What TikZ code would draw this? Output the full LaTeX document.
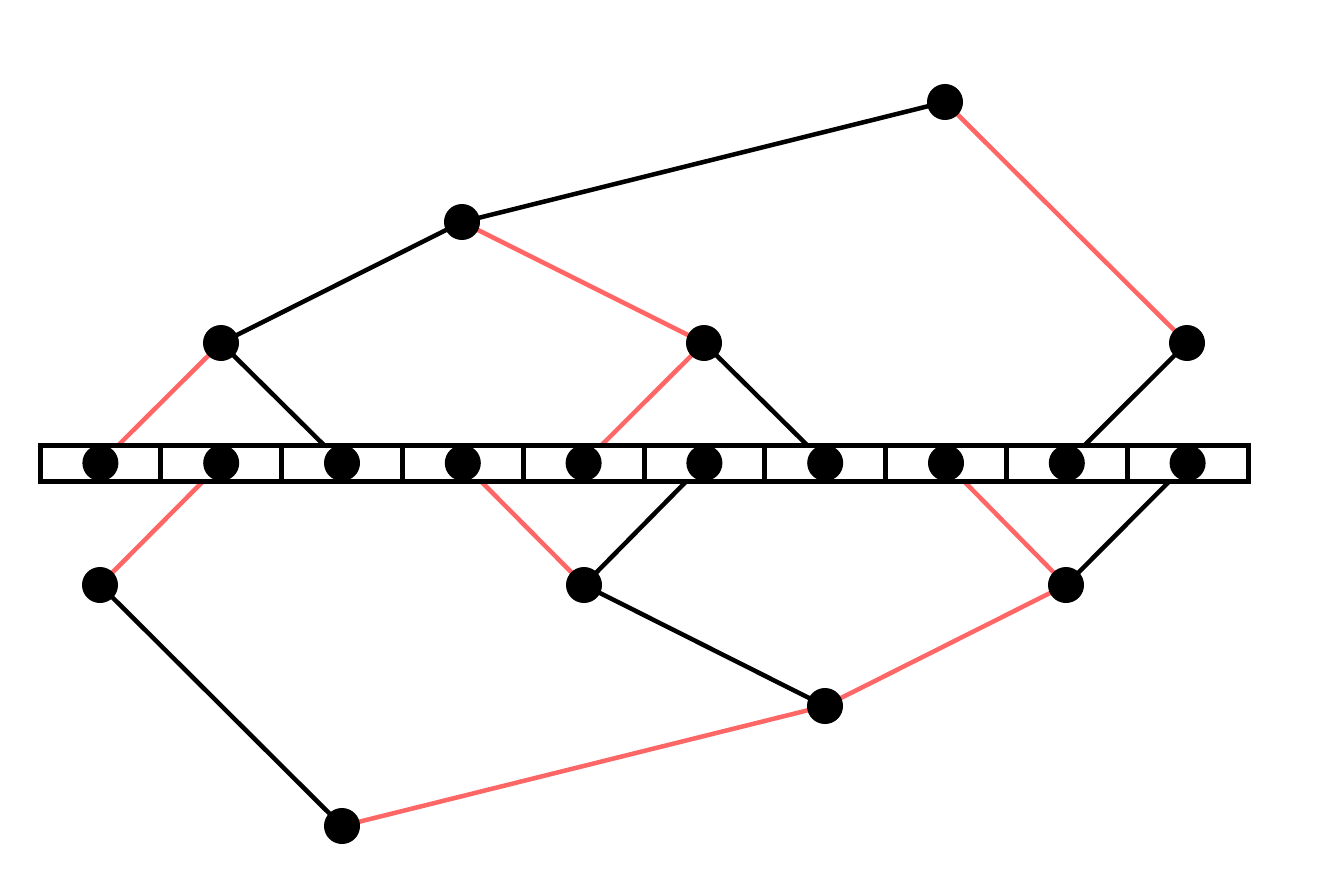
\documentclass[tikz,border=0pt]{standalone}
\begin{document}
\begin{tikzpicture}[x=1pt,y=-1pt,
  blk/.style={line width=4.5pt,black},
  rd/.style={line width=4.5pt,color={rgb,255:red,255;green,102;blue,102}},
  cellbox/.style={draw,line width=5pt,fill=white,rectangle,minimum width=120.8pt,minimum height=36pt,inner sep=0pt},
  dot/.style={circle,fill=black,minimum size=36pt,inner sep=0pt}]
\useasboundingbox (0,0) rectangle (1320,872);
% array coordinates
\foreach \i in {0,...,9} {
  \coordinate (a\i) at ({40+120.8*(\i+0.5)},463);
}
% top tree
\coordinate (t0) at (945,102);
\coordinate (t1) at (462,222);
\coordinate (t2) at (1187,343);
\coordinate (t3) at (221,343);
\coordinate (t4) at (704,343);
% bottom tree
\coordinate (b0) at (342,826);
\coordinate (b1) at (100,585);
\coordinate (b2) at (825,706);
\coordinate (b3) at (584,585);
\coordinate (b4) at (1066,585);
% edges
\draw[blk] (t0) -- (t1);
\draw[rd] (t0) -- (t2);
\draw[blk] (t1) -- (t3);
\draw[rd] (t1) -- (t4);
\draw[rd] (t3) -- (a0);
\draw[blk] (t3) -- (a2);
\draw[rd] (t4) -- (a4);
\draw[blk] (t4) -- (a6);
\draw[blk] (t2) -- (a8);
\draw[blk] (b0) -- (b1);
\draw[rd] (b0) -- (b2);
\draw[rd] (b1) -- (a1);
\draw[blk] (b2) -- (b3);
\draw[rd] (b2) -- (b4);
\draw[rd] (b3) -- (a3);
\draw[blk] (b3) -- (a5);
\draw[rd] (b4) -- (a7);
\draw[blk] (b4) -- (a9);
% cells
\foreach \i in {0,...,9} {
  \node[cellbox] (c\i) at (a\i) {};
}
% dots
\foreach \i in {0,...,9} {
  \node[dot] (d\i) at (a\i) {};
}
\foreach \n in {t0,t1,t2,t3,t4,b0,b1,b2,b3,b4} {
  \node[dot] (n\n) at (\n) {};
}
\end{tikzpicture}
\end{document}
